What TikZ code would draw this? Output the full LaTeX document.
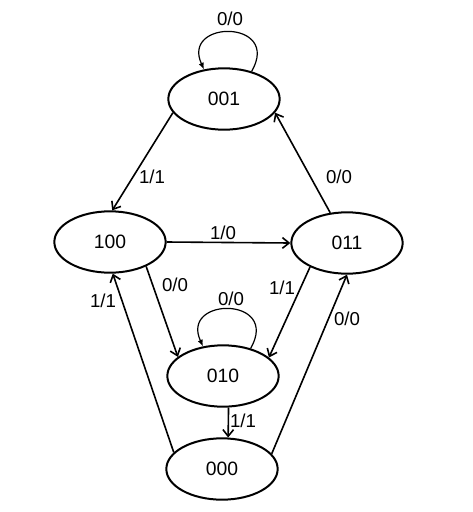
\documentclass[tikz,border=0pt]{standalone}
\usepackage{fontspec}
\setmainfont{Liberation Sans}
\usetikzlibrary{shapes.geometric,arrows.meta}

\tikzset{
  state/.style={ellipse, draw, line width=1.5pt, minimum width=83.5pt,
    minimum height=46pt, inner sep=0pt, font=\fontsize{14.5}{16}\selectfont},
  lab/.style={inner sep=0pt, font=\fontsize{14}{16}\selectfont},
  trans/.style={line width=1.2pt, ->},
  selfloop/.style={line width=0.9pt, -{Latex[length=5pt,width=4pt]}},
}

\begin{document}
\begin{tikzpicture}
        [x=0.75pt, y=-0.75pt, >={Straight Barb[length=5pt,width=8pt]}]
        \useasboundingbox (0,0) rectangle (473,512);
        % states
        \node[state] (s001) at (224,99) {001};
        \node[state] (s100) at (110,242) {100};
        \node[state] (s011) at (347,243) {011};
        \node[state] (s010) at (223,376) {010};
        \node[state] (s000) at (222,469) {000};
        % transitions
        \draw[trans] (s001.195) -- (s100.86);
        \draw[trans] (s011.119) -- (s001.345);
        \draw[trans] (s100.east) -- (s011.west);
        \draw[trans] (s100.326) -- (s010.157);
        \draw[trans] (s011.213) -- (s010.22);
        \draw[trans] (s010.280) -- (s000.79);
        \draw[trans] (s000.161) -- (s100.275);
        \draw[trans] (s000.17) -- (s011.270);
        % self loops
        \draw[selfloop] (s001.45) .. controls +(30,-52) and +(-23,-50) .. (s001.124);
        \draw[selfloop] (s010.45) .. controls +(30,-52) and +(-23,-50) .. (s010.124);
        % labels
        \node[lab] (l001) at (230,19) {0/0};
        \node[lab] (l001a) at (152,177) {1/1};
        \node[lab] (l011a) at (339,177) {0/0};
        \node[lab] (l100a) at (223,233) {1/0};
        \node[lab] (l100b) at (175,285) {0/0};
        \node[lab] (l011b) at (282,288) {1/1};
        \node[lab] (l000a) at (103,301) {1/1};
        \node[lab] (l000b) at (347,319) {0/0};
        \node[lab] (l010) at (231,299) {0/0};
        \node[lab] (l010a) at (243,421) {1/1};
\end{tikzpicture}
\end{document}
